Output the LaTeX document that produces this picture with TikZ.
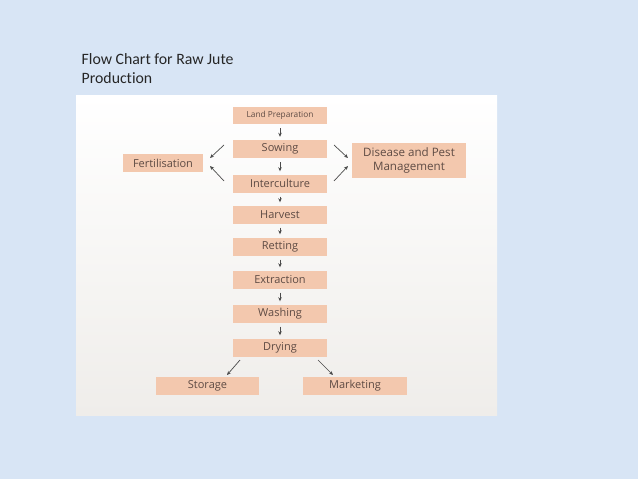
\documentclass[tikz,border=0pt]{standalone}
\usepackage{fontspec}
\setmainfont[Ligatures=CommonOff]{Carlito}
\newfontfamily\boxfont{Open Sans}
\usetikzlibrary{arrows.meta}
\definecolor{bgblue}{HTML}{D8E5F5}
\definecolor{peach}{HTML}{F3C8AE}
\definecolor{boxtext}{HTML}{5E4B44}
\definecolor{arrowgray}{HTML}{4A4A4A}
\definecolor{panelbot}{HTML}{EFEDEA}
\tikzset{
  stepbox/.style={draw=none, fill=peach, text=boxtext, font=\boxfont\fontsize{11pt}{12.5pt}\selectfont,
    minimum width=94pt, minimum height=18pt, inner sep=0pt, align=center},
  flowarrow/.style={draw=arrowgray, line width=0.7pt, -{Stealth[length=4pt,width=3.5pt]}}
}
\begin{document}
\begin{tikzpicture}[x=1pt,y=-1pt]
\useasboundingbox (0,0) rectangle (638,479);
\fill[bgblue] (0,0) rectangle (638,479);
\shade[top color=white, bottom color=panelbot] (76,95) rectangle (497,415);
\node[anchor=north west, align=left, inner sep=0pt, text=black!85,
  font=\fontsize{15.8pt}{19pt}\selectfont] (title) at (81.5,53) {Flow Chart for Raw Jute\\Production};

\node[stepbox, font=\boxfont\fontsize{8.3pt}{9pt}\selectfont, minimum height=17pt] (land) at (280,115.5) {Land Preparation};
\node[stepbox] (sow) at (280,149) {Sowing};
\node[stepbox] (inter) at (280,183.5) {Interculture};
\node[stepbox, minimum width=80pt] (fert) at (163,163) {Fertilisation};
\node[stepbox, font=\boxfont\fontsize{11.6pt}{14pt}\selectfont, minimum width=114pt, minimum height=35pt] (dis) at (409,160.5) {Disease and Pest\\Management};
\node[stepbox] (harv) at (280,214.5) {Harvest};
\node[stepbox] (ret) at (280,246.5) {Retting};
\node[stepbox] (ext) at (280,279.5) {Extraction};
\node[stepbox] (wash) at (280,313.5) {Washing};
\node[stepbox] (dry) at (280,347.5) {Drying};
\node[stepbox, minimum width=103pt] (stor) at (207.5,386) {Storage};
\node[stepbox, minimum width=104pt] (mark) at (355,386) {Marketing};

\foreach \a/\b in {land/sow, sow/inter, inter/harv, harv/ret, ret/ext, ext/wash, wash/dry}
  \draw[flowarrow, shorten <=4pt, shorten >=3pt] (\a) -- (\b);

\coordinate (s1) at (224,145);   \coordinate (f1) at (210,158);
\coordinate (i1) at (224,181);   \coordinate (f2) at (210,166);
\coordinate (s2) at (334,145);   \coordinate (d1) at (348,158);
\coordinate (i2) at (334,181);   \coordinate (d2) at (348,166);
\coordinate (r1) at (240,360);   \coordinate (t1) at (227,375);
\coordinate (r2) at (318,360);   \coordinate (m1) at (333,375);
\draw[flowarrow] (s1) -- (f1);
\draw[flowarrow] (i1) -- (f2);
\draw[flowarrow] (s2) -- (d1);
\draw[flowarrow] (i2) -- (d2);
\draw[flowarrow] (r1) -- (t1);
\draw[flowarrow] (r2) -- (m1);
\end{tikzpicture}
\end{document}
